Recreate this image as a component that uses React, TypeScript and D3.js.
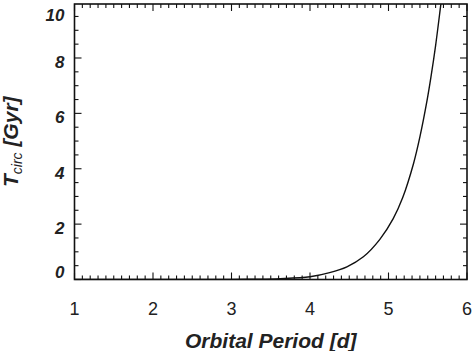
import { useMemo } from "react";
import { curveCatmullRom, line, range, scaleLinear } from "d3";

const WIDTH = 474;
const HEIGHT = 351;
const FRAME = { left: 74.5, right: 467, top: 4, bottom: 279.5 };

const periods = [1, 2, 3, 3.3, 3.62, 4.0, 4.25, 4.47, 4.68, 4.89, 5.06, 5.18, 5.32, 5.4, 5.49, 5.54, 5.6, 5.665, 5.7];
const tcirc = [0, 0, 0.003, 0.01, 0.03, 0.1, 0.25, 0.46, 0.82, 1.45, 2.2, 2.95, 4.2, 5.15, 6.45, 7.3, 8.45, 9.9, 10.7];

const xTicks = [1, 2, 3, 4, 5, 6];
const yTicks = [0, 2, 4, 6, 8, 10];

const FONT = "'Liberation Sans', Arial, Helvetica, sans-serif";

export default function App() {
  const x = useMemo(() => scaleLinear().domain([1, 6]).range([FRAME.left, FRAME.right]), []);
  const y = useMemo(() => scaleLinear().domain([0, 9.95]).range([FRAME.bottom, FRAME.top]), []);
  const path = useMemo(
    () =>
      line<number>()
        .x((_, i) => x(periods[i]))
        .y((v) => y(v))
        .curve(curveCatmullRom.alpha(0.5))(tcirc),
    [x, y]
  );

  const xMinor = range(1, 6.001, 0.1).map((v) => Math.round(v * 10) / 10);
  const yMinor = range(0, 10.001, 0.5).filter((v) => y(v) >= FRAME.top - 0.5);

  return (
    <svg width={WIDTH} height={HEIGHT} style={{ position: "absolute", left: 0, top: 0, background: "#fff" }}>
      <defs>
        <clipPath id="plot-clip">
          <rect x={FRAME.left} y={FRAME.top} width={FRAME.right - FRAME.left} height={FRAME.bottom - FRAME.top} />
        </clipPath>
      </defs>

      {/* ticks on all four sides, pointing inward */}
      <g stroke="#111" strokeWidth={1.1}>
        {xMinor.map((v) => {
          const len = Number.isInteger(v) ? 7 : 4;
          return (
            <g key={`x${v}`}>
              <line x1={x(v)} x2={x(v)} y1={FRAME.bottom} y2={FRAME.bottom - len} />
              <line x1={x(v)} x2={x(v)} y1={FRAME.top} y2={FRAME.top + len} />
            </g>
          );
        })}
        {yMinor.map((v) => {
          const len = v % 2 === 0 ? 7 : 4;
          return (
            <g key={`y${v}`}>
              <line x1={FRAME.left} x2={FRAME.left + len} y1={y(v)} y2={y(v)} />
              <line x1={FRAME.right} x2={FRAME.right - len} y1={y(v)} y2={y(v)} />
            </g>
          );
        })}
      </g>

      <rect
        x={FRAME.left}
        y={FRAME.top}
        width={FRAME.right - FRAME.left}
        height={FRAME.bottom - FRAME.top}
        fill="none"
        stroke="#111"
        strokeWidth={1.6}
      />

      <path d={path ?? ""} fill="none" stroke="#111" strokeWidth={1.4} clipPath="url(#plot-clip)" />

      {/* x tick labels */}
      <g fontFamily={FONT} fontSize={18} fill="#222" textAnchor="middle">
        {xTicks.map((v) => (
          <text key={v} x={x(v)} y={314.5}>
            {v}
          </text>
        ))}
      </g>

      {/* y tick labels */}
      <g fontFamily={FONT} fontSize={17} fontWeight="bold" fontStyle="italic" fill="#222" textAnchor="end">
        {yTicks.map((v) => {
          const cy = Math.min(272, Math.max(15, y(v) + 4));
          return (
            <text key={v} x={64.5} y={cy} dy="0.36em">
              {v}
            </text>
          );
        })}
      </g>

      <text
        x={(FRAME.left + FRAME.right) / 2}
        y={347.5}
        fontFamily={FONT}
        fontSize={21}
        fontWeight="bold"
        fontStyle="italic"
        fill="#222"
        textAnchor="middle"
      >
        Orbital Period [d]
      </text>

      <text
        transform={`translate(18, ${(FRAME.top + FRAME.bottom) / 2}) rotate(-90)`}
        fontFamily={FONT}
        fontSize={21}
        fontWeight="bold"
        fontStyle="italic"
        fill="#222"
        textAnchor="middle"
      >
        T
        <tspan fontSize={14} fontWeight="normal" dy={4}>
          circ
        </tspan>
        <tspan dy={-4}> [Gyr]</tspan>
      </text>
    </svg>
  );
}
